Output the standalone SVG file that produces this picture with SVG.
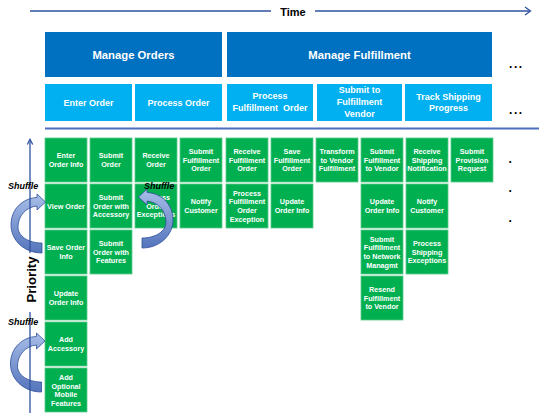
<svg xmlns="http://www.w3.org/2000/svg" width="549" height="413" viewBox="0 0 549 413">
<style>
.hd{fill:#0070C0}
.sb{fill:#00B0F0}
.gb{fill:#00B050;stroke:#5CCB8C;stroke-width:0.8}
.t{font-family:"Liberation Sans",Arial,sans-serif;font-weight:bold;fill:#fff;text-anchor:middle}
.ht{font-size:11.3px}
.st{font-size:9px}
.gt{font-size:7.2px}
.blk{font-family:"Liberation Sans",Arial,sans-serif;font-weight:bold;fill:#000}
.sh{font-family:"Liberation Sans",Arial,sans-serif;font-weight:bold;font-style:italic;font-size:9px;fill:#000}
.ax{stroke:#2F52A0;stroke-width:1.3;fill:none}
.arr{fill:url(#ag);stroke:#2F4F9A;stroke-width:0.8}
</style>
<defs>
<linearGradient id="ag" x1="0" y1="0" x2="0" y2="1">
<stop offset="0" stop-color="#A9BFE8"/>
<stop offset="1" stop-color="#5474BC"/>
</linearGradient>
<path id="shuf" d="M37,194 L37,197.5 C24,198 11,208 11,225 C11,240 24,253 42,253 L42,243 C28,243 18,236 18,227 C18,216 26,207 37,206 L37,210 L45.5,202 Z"/>
</defs>

<g id="time-axis">
<line class="ax" x1="30" y1="11" x2="271" y2="11"/>
<line class="ax" x1="315" y1="11" x2="530" y2="11"/>
<path class="ax" d="M525,7 L530.5,11 L525,15"/>
<text class="blk" x="293" y="15.5" font-size="11" text-anchor="middle">Time</text>
</g>

<g id="manage-orders"><rect class="hd" x="45" y="32" width="177" height="45"/><text class="t ht" x="133.5" y="59">Manage Orders</text></g>
<g id="manage-fulfillment"><rect class="hd" x="227" y="32" width="265" height="45"/><text class="t ht" x="359.5" y="59">Manage Fulfillment</text></g>
<text class="blk" x="509" y="68" font-size="12" letter-spacing="1.6">...</text>

<g id="enter-order"><rect class="sb" x="45" y="84" width="87" height="37"/><text class="t st" x="88.5" y="105.7">Enter Order</text></g>
<g id="process-order"><rect class="sb" x="135" y="84" width="87" height="37"/><text class="t st" x="178.5" y="105.7">Process Order</text></g>
<g id="process-fulfillment-order"><rect class="sb" x="227" y="84" width="86" height="37"/><text class="t st" x="270" xml:space="preserve"><tspan x="270" y="99.4">Process</tspan><tspan x="270" y="111">Fulfillment  Order</tspan></text></g>
<g id="submit-to-fulfillment-vendor"><rect class="sb" x="317" y="84" width="85" height="37"/><text class="t st"><tspan x="359.5" y="93.3">Submit to</tspan><tspan x="359.5" y="105">Fulfillment</tspan><tspan x="359.5" y="116.6">Vendor</tspan></text></g>
<g id="track-shipping-progress"><rect class="sb" x="405" y="84" width="87" height="37"/><text class="t st"><tspan x="448.5" y="99.6">Track Shipping</tspan><tspan x="448.5" y="111">Progress</tspan></text></g>
<text class="blk" x="509" y="114" font-size="12" letter-spacing="1.6">...</text>

<line x1="45" y1="128.5" x2="539" y2="128.5" stroke="#4A6EC0" stroke-width="1.8"/>

<!-- Row 1 -->
<g id="enter-order-info"><rect class="gb" x="45" y="138" width="42" height="44"/><text class="t gt"><tspan x="66" y="158.3">Enter</tspan><tspan x="66" y="167">Order Info</tspan></text></g>
<g id="submit-order"><rect class="gb" x="90" y="138" width="42" height="44"/><text class="t gt"><tspan x="111" y="158.3">Submit</tspan><tspan x="111" y="167">Order</tspan></text></g>
<g id="receive-order"><rect class="gb" x="135" y="138" width="42" height="44"/><text class="t gt"><tspan x="156" y="158.3">Receive</tspan><tspan x="156" y="167">Order</tspan></text></g>
<g id="submit-fulfillment-order"><rect class="gb" x="180" y="138" width="42" height="44"/><text class="t gt"><tspan x="201" y="153.9">Submit</tspan><tspan x="201" y="162.6">Fulfillment</tspan><tspan x="201" y="171.3">Order</tspan></text></g>
<g id="receive-fulfillment-order"><rect class="gb" x="226" y="138" width="42" height="44"/><text class="t gt"><tspan x="247" y="153.9">Receive</tspan><tspan x="247" y="162.6">Fulfillment</tspan><tspan x="247" y="171.3">Order</tspan></text></g>
<g id="save-fulfillment-order"><rect class="gb" x="271" y="138" width="42" height="44"/><text class="t gt"><tspan x="292" y="153.9">Save</tspan><tspan x="292" y="162.6">Fulfillment</tspan><tspan x="292" y="171.3">Order</tspan></text></g>
<g id="transform-to-vendor"><rect class="gb" x="316" y="138" width="42" height="44"/><text class="t gt"><tspan x="337" y="153.9">Transform</tspan><tspan x="337" y="162.6">to Vendor</tspan><tspan x="337" y="171.3">Fulfillment</tspan></text></g>
<g id="submit-fulfillment-to-vendor"><rect class="gb" x="361" y="138" width="42" height="44"/><text class="t gt"><tspan x="382" y="153.9">Submit</tspan><tspan x="382" y="162.6">Fulfillment</tspan><tspan x="382" y="171.3">to Vendor</tspan></text></g>
<g id="receive-shipping-notification"><rect class="gb" x="406" y="138" width="42" height="44"/><text class="t gt"><tspan x="427" y="153.9">Receive</tspan><tspan x="427" y="162.6">Shipping</tspan><tspan x="427" y="171.3">Notification</tspan></text></g>
<g id="submit-provision-request"><rect class="gb" x="451" y="138" width="42" height="44"/><text class="t gt"><tspan x="472" y="153.9">Submit</tspan><tspan x="472" y="162.6">Provision</tspan><tspan x="472" y="171.3">Request</tspan></text></g>

<!-- Row 2 -->
<g id="view-order"><rect class="gb" x="45" y="184" width="42" height="44"/><text class="t gt" x="66" y="208.6">View Order</text></g>
<g id="submit-order-accessory"><rect class="gb" x="90" y="184" width="42" height="44"/><text class="t gt"><tspan x="111" y="199.9">Submit</tspan><tspan x="111" y="208.6">Order with</tspan><tspan x="111" y="217.3">Accessory</tspan></text></g>
<g id="process-order-exceptions"><rect class="gb" x="135" y="184" width="42" height="44"/><text class="t gt"><tspan x="156" y="199.9">Process</tspan><tspan x="156" y="208.6">Order</tspan><tspan x="156" y="217.3">Exceptions</tspan></text></g>
<g id="notify-customer-1"><rect class="gb" x="180" y="184" width="42" height="44"/><text class="t gt"><tspan x="201" y="204.3">Notify</tspan><tspan x="201" y="213">Customer</tspan></text></g>
<g id="process-fulfillment-order-exception"><rect class="gb" x="226" y="184" width="42" height="44"/><text class="t gt"><tspan x="247" y="195.6">Process</tspan><tspan x="247" y="204.3">Fulfillment</tspan><tspan x="247" y="213">Order</tspan><tspan x="247" y="221.7">Exception</tspan></text></g>
<g id="update-order-info-1"><rect class="gb" x="271" y="184" width="42" height="44"/><text class="t gt"><tspan x="292" y="204.3">Update</tspan><tspan x="292" y="213">Order Info</tspan></text></g>
<g id="update-order-info-2"><rect class="gb" x="361" y="184" width="42" height="44"/><text class="t gt"><tspan x="382" y="204.3">Update</tspan><tspan x="382" y="213">Order Info</tspan></text></g>
<g id="notify-customer-2"><rect class="gb" x="406" y="184" width="42" height="44"/><text class="t gt"><tspan x="427" y="204.3">Notify</tspan><tspan x="427" y="213">Customer</tspan></text></g>

<!-- Row 3 -->
<g id="save-order-info"><rect class="gb" x="45" y="230" width="42" height="44"/><text class="t gt"><tspan x="66" y="250.3">Save Order</tspan><tspan x="66" y="259">Info</tspan></text></g>
<g id="submit-order-features"><rect class="gb" x="90" y="230" width="42" height="44"/><text class="t gt"><tspan x="111" y="245.9">Submit</tspan><tspan x="111" y="254.6">Order with</tspan><tspan x="111" y="263.3">Features</tspan></text></g>
<g id="submit-fulfillment-network"><rect class="gb" x="361" y="230" width="42" height="44"/><text class="t gt"><tspan x="382" y="241.6">Submit</tspan><tspan x="382" y="250.3">Fulfillment</tspan><tspan x="382" y="259">to Network</tspan><tspan x="382" y="267.7">Managmt</tspan></text></g>
<g id="process-shipping-exceptions"><rect class="gb" x="406" y="230" width="42" height="44"/><text class="t gt"><tspan x="427" y="245.9">Process</tspan><tspan x="427" y="254.6">Shipping</tspan><tspan x="427" y="263.3">Exceptions</tspan></text></g>

<!-- Row 4 -->
<g id="update-order-info-3"><rect class="gb" x="45" y="276" width="42" height="44"/><text class="t gt"><tspan x="66" y="296.3">Update</tspan><tspan x="66" y="305">Order Info</tspan></text></g>
<g id="resend-fulfillment"><rect class="gb" x="361" y="276" width="42" height="44"/><text class="t gt"><tspan x="382" y="291.9">Resend</tspan><tspan x="382" y="300.6">Fulfillment</tspan><tspan x="382" y="309.3">to Vendor</tspan></text></g>

<!-- Row 5, 6 -->
<g id="add-accessory"><rect class="gb" x="45" y="322" width="42" height="44"/><text class="t gt"><tspan x="66" y="342.3">Add</tspan><tspan x="66" y="351">Accessory</tspan></text></g>
<g id="add-optional-mobile-features"><rect class="gb" x="45" y="368" width="42" height="44"/><text class="t gt"><tspan x="66" y="380">Add</tspan><tspan x="66" y="388.7">Optional</tspan><tspan x="66" y="397.4">Mobile</tspan><tspan x="66" y="406.1">Features</tspan></text></g>

<g id="more-dots" class="blk" font-size="12">
<text x="508.5" y="163">.</text>
<text x="508.5" y="192">.</text>
<text x="508.5" y="222">.</text>
</g>

<g id="connectors">
<use href="#shuf" class="arr"/>
<use href="#shuf" class="arr" transform="translate(184,-5) scale(-1,1)"/>
<use href="#shuf" class="arr" transform="translate(-0.5,139)"/>
<line class="ax" x1="30" y1="139.5" x2="30" y2="253" stroke-width="1"/>
<line class="ax" x1="30" y1="312" x2="30" y2="413" stroke-width="1"/>
<path class="ax" stroke-width="1" d="M27.3,144.5 L30,139.3 L32.7,144.5"/>
</g>

<text class="blk" font-size="13.2" text-anchor="middle" transform="translate(35.5,279.5) rotate(-90)">Priority</text>
<text class="sh" x="8" y="188.5">Shuffle</text>
<text class="sh" x="144" y="188.5">Shuffle</text>
<text class="sh" x="8" y="324.5">Shuffle</text>
</svg>
